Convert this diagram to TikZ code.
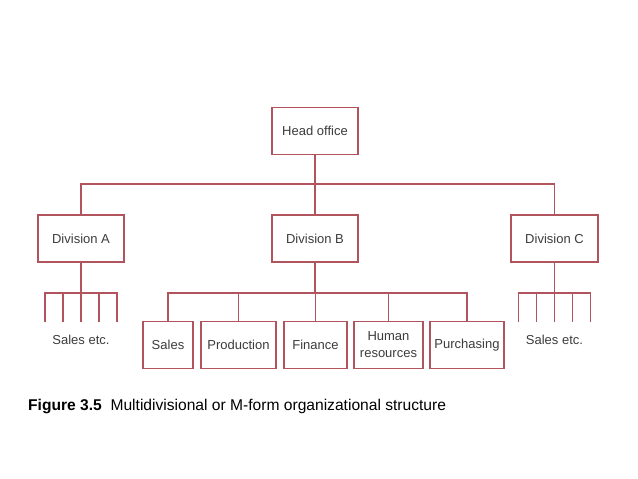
\documentclass[tikz,border=0pt]{standalone}
\usepackage{fontspec}
\setmainfont{Liberation Sans}
\definecolor{ln}{RGB}{178,84,94}
\definecolor{tx}{RGB}{60,60,60}
\begin{document}
\begin{tikzpicture}[x=1pt,y=-1pt,
  box/.style={draw=ln,line width=1.8pt,fill=white,minimum height=47pt,align=center,font=\fontsize{13}{17}\selectfont,text=tx,inner sep=2pt},
  wire/.style={draw=ln,line width=1.8pt},
  lbl/.style={font=\fontsize{13}{15}\selectfont,text=tx}]
\useasboundingbox (0,0) rectangle (638,479);
\node[box,minimum width=86pt] (ho) at (315,131) {Head office};
\node[box,minimum width=86pt] (da) at (81,238.5) {Division A};
\node[box,minimum width=86pt] (db) at (315,238.5) {Division B};
\node[box,minimum width=87pt] (dc) at (554.5,238.5) {Division C};
\node[box,minimum width=50pt] (s1) at (168,345) {Sales};
\node[box,minimum width=75pt] (s2) at (238.5,345) {Production};
\node[box,minimum width=63pt] (s3) at (315.5,345) {Finance};
\node[box,minimum width=69pt] (s4) at (388.5,345) {Human\\resources};
\node[box,minimum width=74pt] (s5) at (467,345) {Purchasing};
\coordinate (bus) at (315,184);
\coordinate (bus2) at (315,293);
\draw[wire] (ho.south) -- (bus);
\draw[wire] (da.north) |- (bus) -| (dc.north);
\draw[wire] (bus) -- (db.north);
\draw[wire] (db.south) -- (bus2);
\draw[wire] (s1.north) |- (bus2) -| (s5.north);
\foreach \n in {s2,s3,s4} \draw[wire] (\n.north) -- (\n.north|-bus2);
\draw[wire] (da.south) -- (81,293);
\draw[wire] (45,322) |- (117,293) -- (117,322);
\foreach \x in {63,81,99} \draw[wire] (\x,293) -- (\x,322);
\draw[wire] (dc.south) -- (554.5,293);
\draw[wire] (518.5,322) |- (590.5,293) -- (590.5,322);
\foreach \x in {536.5,554.5,572.5} \draw[wire] (\x,293) -- (\x,322);
\node[lbl] (la) at (81,340) {Sales etc.};
\node[lbl] (lc) at (554.5,340) {Sales etc.};
\node[anchor=west,font=\fontsize{15.6}{18}\selectfont,inner sep=0pt] (cap) at (28,406) {\textbf{Figure 3.5}\ \ Multidivisional or M-form organizational structure};
\end{tikzpicture}
\end{document}
